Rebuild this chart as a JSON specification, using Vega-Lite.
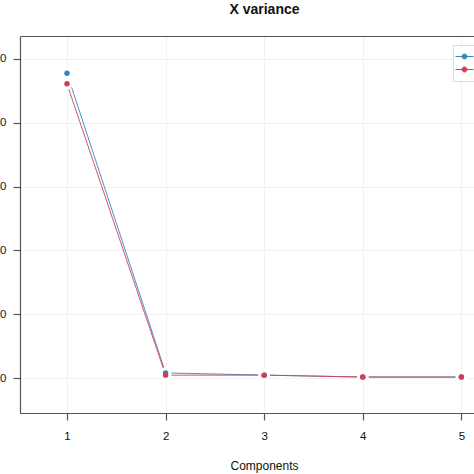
{
  "$schema": "https://vega.github.io/schema/vega-lite/v6.json",
  "autosize": {"type": "none"},
  "padding": {"left": 20, "top": 36, "right": 0, "bottom": 61},
  "width": 454,
  "height": 377,
  "background": "white",
  "config": {
    "font": "Liberation Sans",
    "view": {"stroke": null},
    "axis": {
      "domainColor": "#555555",
      "domainWidth": 1.2,
      "tickColor": "#555555",
      "tickWidth": 1.2,
      "tickSize": 7,
      "labelColor": "#111111",
      "labelFont": "Liberation Sans",
      "labelFontSize": 11.5,
      "gridColor": "#f1f1f1",
      "gridWidth": 1
    }
  },
  "data": {
    "values": [
      {"comp": 1, "variance": 95.5, "set": "cal"},
      {"comp": 2, "variance": 1.6, "set": "cal"},
      {"comp": 3, "variance": 0.9, "set": "cal"},
      {"comp": 4, "variance": 0.3, "set": "cal"},
      {"comp": 5, "variance": 0.3, "set": "cal"},
      {"comp": 1, "variance": 92.2, "set": "cv"},
      {"comp": 2, "variance": 0.9, "set": "cv"},
      {"comp": 3, "variance": 0.9, "set": "cv"},
      {"comp": 4, "variance": 0.3, "set": "cv"},
      {"comp": 5, "variance": 0.3, "set": "cv"}
    ]
  },
  "encoding": {
    "y": {
      "field": "variance",
      "type": "quantitative",
      "scale": {"domain": [-10.97, 107.2], "nice": false, "zero": false},
      "axis": {
        "title": null,
        "values": [0, 20, 40, 60, 80, 100],
        "labelPadding": 7,
        "grid": true
      }
    }
  },
  "layer": [
    {
      "mark": {"type": "line", "strokeWidth": 0.9},
      "encoding": {
        "x": {
          "field": "comp",
          "type": "quantitative",
          "scale": {"domain": [0.5233, 5.128], "nice": false, "zero": false},
          "axis": {
            "title": "Components",
            "titleFont": "Liberation Sans",
            "titleFontSize": 12,
            "titleFontWeight": "normal",
            "titleColor": "#111111",
            "titleX": 244,
            "titleAlign": "center",
            "titlePadding": 19,
            "values": [1, 2, 3, 4, 5],
            "format": "d",
            "labelPadding": 10,
            "grid": true
          }
        },
        "color": {
          "field": "set",
          "type": "nominal",
          "scale": {"domain": ["cal", "cv"], "range": ["#3288BD", "#D53E4F"]},
          "legend": {
            "title": null,
            "orient": "none",
            "legendX": 433,
            "legendY": 9,
            "padding": 6,
            "rowPadding": 1,
            "strokeColor": "#dddddd",
            "fillColor": "white",
            "cornerRadius": 0,
            "symbolSize": 100,
            "symbolType": "M-1.8,0L1.8,0M-0.5,0A0.5,0.5,0,1,1,0.5,0A0.5,0.5,0,1,1,-0.5,0Z",
            "labelFontSize": 11,
            "labelFont": "Liberation Sans",
            "encode": {
              "symbols": {
                "update": {
                  "fill": {"scale": "color", "field": "value"},
                  "stroke": {"scale": "color", "field": "value"},
                  "strokeWidth": {"value": 1},
                  "opacity": {"value": 1}
                }
              }
            }
          }
        }
      }
    },
    {
      "mark": {"type": "point", "filled": true, "opacity": 1, "size": 133, "shape": "circle"},
      "encoding": {
        "x": {
          "field": "comp",
          "type": "quantitative",
          "axis": {
            "orient": "top",
            "title": "X variance",
            "titleFont": "Liberation Sans",
            "titleFontSize": 14,
            "titleFontWeight": "bold",
            "titleColor": "#111111",
            "titleX": 244,
            "titleY": -23,
            "titleAlign": "center",
            "titleBaseline": "alphabetic",
            "labels": false,
            "ticks": false,
            "grid": false,
            "domain": true
          }
        },
        "color": {"value": "white"}
      }
    },
    {
      "mark": {"type": "point", "filled": true, "opacity": 1, "size": 30, "shape": "circle"},
      "encoding": {
        "x": {"field": "comp", "type": "quantitative", "axis": null},
        "color": {
          "field": "set",
          "type": "nominal",
          "scale": {"domain": ["cal", "cv"], "range": ["#3288BD", "#D53E4F"]}
        }
      }
    }
  ],
  "resolve": {"axis": {"x": "independent"}}
}
